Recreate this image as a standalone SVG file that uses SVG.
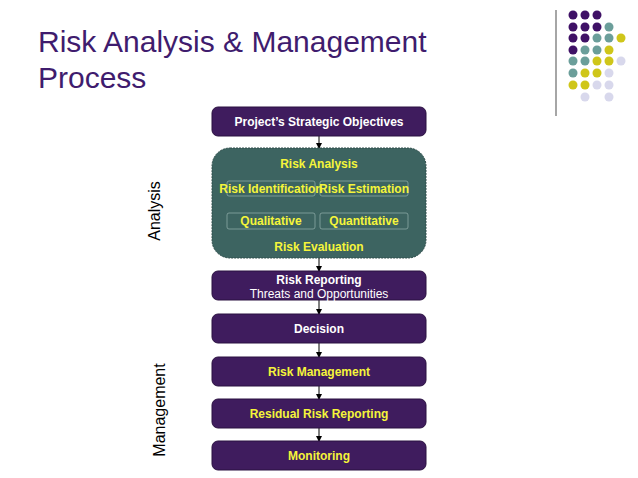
<svg xmlns="http://www.w3.org/2000/svg" width="638" height="478" viewBox="0 0 638 478">
<style>
.b{fill:#3f1c5e;stroke:#2a1040;stroke-width:1}
.t{font-family:"Liberation Sans",Arial,sans-serif;font-weight:bold;font-size:12px;text-anchor:middle}
.w{fill:#fff}.y{fill:#f5f53a}
.ib{fill:none;stroke:#8aa8a4;stroke-width:0.8}
.c{stroke:#000;stroke-width:1;marker-end:url(#a)}
</style>
<defs><marker id="a" markerWidth="6" markerHeight="6" refX="5" refY="3" orient="auto"><path d="M0,0L6,3L0,6z" fill="#000"/></marker></defs>
<rect width="638" height="478" fill="#fff"/>
<text x="38" y="52" font-family="Liberation Sans,Arial,sans-serif" font-size="30" fill="#3f1c6e">Risk Analysis &amp; Management</text>
<text x="38" y="88" font-family="Liberation Sans,Arial,sans-serif" font-size="30" fill="#3f1c6e">Process</text>
<line x1="556" y1="10" x2="556" y2="116" stroke="#888" stroke-width="1.5"/>
<g id="dots">
<g fill="#3f1166"><circle cx="573" cy="15" r="4.5"/><circle cx="585" cy="15" r="4.5"/><circle cx="597" cy="15" r="4.5"/><circle cx="573" cy="27" r="4.5"/><circle cx="585" cy="27" r="4.5"/><circle cx="597" cy="27" r="4.5"/><circle cx="573" cy="38" r="4.5"/><circle cx="585" cy="38" r="4.5"/><circle cx="573" cy="50" r="4.5"/></g>
<g fill="#6b9e9a"><circle cx="609" cy="27" r="4.5"/><circle cx="597" cy="38" r="4.5"/><circle cx="609" cy="38" r="4.5"/><circle cx="585" cy="50" r="4.5"/><circle cx="597" cy="50" r="4.5"/><circle cx="573" cy="61" r="4.5"/><circle cx="585" cy="61" r="4.5"/><circle cx="573" cy="73" r="4.5"/></g>
<g fill="#cfc61a"><circle cx="621" cy="38" r="4.5"/><circle cx="609" cy="50" r="4.5"/><circle cx="597" cy="61" r="4.5"/><circle cx="609" cy="61" r="4.5"/><circle cx="585" cy="73" r="4.5"/><circle cx="597" cy="73" r="4.5"/><circle cx="573" cy="85" r="4.5"/><circle cx="585" cy="85" r="4.5"/></g>
<g fill="#d8d8ec"><circle cx="621" cy="61" r="4.5"/><circle cx="609" cy="73" r="4.5"/><circle cx="597" cy="85" r="4.5"/><circle cx="609" cy="85" r="4.5"/><circle cx="585" cy="97" r="4.5"/><circle cx="609" cy="97" r="4.5"/></g>
</g>
<text transform="translate(160,211) rotate(-90)" font-family="Liberation Sans,Arial,sans-serif" font-size="16" fill="#000" text-anchor="middle">Analysis</text>
<text transform="translate(165,410) rotate(-90)" font-family="Liberation Sans,Arial,sans-serif" font-size="16" fill="#000" text-anchor="middle">Management</text>
<g id="connectors">
<line class="c" x1="319" y1="136" x2="319" y2="148"/>
<line class="c" x1="319" y1="258" x2="319" y2="271"/>
<line class="c" x1="319" y1="300" x2="319" y2="314"/>
<line class="c" x1="319" y1="343" x2="319" y2="357"/>
<line class="c" x1="319" y1="386" x2="319" y2="399"/>
<line class="c" x1="319" y1="428" x2="319" y2="441"/>
</g>
<g id="objectives"><rect class="b" x="212" y="107" width="214" height="29" rx="6"/><text class="t w" x="319" y="126">Project’s Strategic Objectives</text></g>
<g id="analysis"><rect x="212" y="148" width="214" height="110" rx="18" fill="#3d6461" stroke="#2e4d4a" stroke-dasharray="2,1"/>
<text class="t y" x="319" y="168">Risk Analysis</text>
<text class="t y" x="319" y="251">Risk Evaluation</text></g>
<g id="ident"><rect class="ib" x="227" y="181" width="88" height="15" rx="2"/><text class="t y" x="271" y="193" font-size="10">Risk Identification</text></g>
<g id="estim"><rect class="ib" x="320" y="181" width="88" height="15" rx="2"/><text class="t y" x="364" y="193" font-size="10">Risk Estimation</text></g>
<g id="qual"><rect class="ib" x="227" y="213" width="88" height="16" rx="2"/><text class="t y" x="271" y="225" font-size="10">Qualitative</text></g>
<g id="quant"><rect class="ib" x="320" y="213" width="88" height="16" rx="2"/><text class="t y" x="364" y="225" font-size="10">Quantitative</text></g>
<g id="reporting"><rect class="b" x="212" y="271" width="214" height="29" rx="6"/><text class="t w" x="319" y="284">Risk Reporting</text><text x="319" y="298" font-family="Liberation Sans,Arial,sans-serif" font-size="12" fill="#fff" text-anchor="middle">Threats and Opportunities</text></g>
<g id="decision"><rect class="b" x="212" y="314" width="214" height="29" rx="6"/><text class="t w" x="319" y="333">Decision</text></g>
<g id="mgmt"><rect class="b" x="212" y="357" width="214" height="29" rx="6"/><text class="t y" x="319" y="376">Risk Management</text></g>
<g id="residual"><rect class="b" x="212" y="399" width="214" height="29" rx="6"/><text class="t y" x="319" y="418">Residual Risk Reporting</text></g>
<g id="monitoring"><rect class="b" x="212" y="441" width="214" height="29" rx="6"/><text class="t y" x="319" y="460">Monitoring</text></g>
</svg>
